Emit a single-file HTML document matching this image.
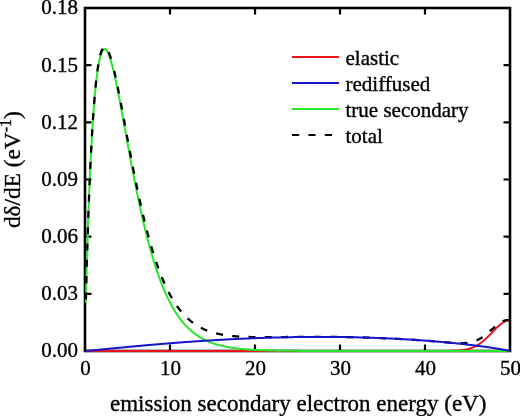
<!DOCTYPE html>
<html><head><meta charset="utf-8"><style>html,body{margin:0;padding:0;background:#fff;width:520px;height:416px;overflow:hidden}svg{display:block}.t{font-family:"Liberation Serif","Times New Roman",serif;fill:#000;stroke:#000;stroke-width:0.35px}</style></head>
<body><svg width="520" height="416" viewBox="0 0 520 416"><rect width="520" height="416" fill="#fff"/><rect x="85.0" y="8.0" width="425.0" height="343.0" fill="none" stroke="#000" stroke-width="2.6"/><path d="M170.0 351.0v-6.5M170.0 8.0v6.5M255.0 351.0v-6.5M255.0 8.0v6.5M340.0 351.0v-6.5M340.0 8.0v6.5M425.0 351.0v-6.5M425.0 8.0v6.5M85.0 293.8h6.5M510.0 293.8h-6.5M85.0 236.7h6.5M510.0 236.7h-6.5M85.0 179.5h6.5M510.0 179.5h-6.5M85.0 122.3h6.5M510.0 122.3h-6.5M85.0 65.2h6.5M510.0 65.2h-6.5" stroke="#000" stroke-width="2.2" fill="none"/><polyline fill="none" stroke="#e8141c" stroke-width="2" points="85.00,351.00 85.08,351.00 85.17,351.00 85.25,351.00 85.34,351.00 85.42,351.00 85.51,351.00 85.59,351.00 85.68,351.00 85.77,351.00 85.85,351.00 85.94,351.00 86.02,351.00 86.11,351.00 86.19,351.00 86.28,351.00 86.36,351.00 86.44,351.00 86.53,351.00 86.61,351.00 86.70,351.00 86.78,351.00 86.87,351.00 86.95,351.00 87.04,351.00 87.12,351.00 87.21,351.00 87.30,351.00 87.38,351.00 87.47,351.00 87.55,351.00 87.64,351.00 87.72,351.00 87.81,351.00 87.89,351.00 87.97,351.00 88.06,351.00 88.14,351.00 88.23,351.00 88.31,351.00 88.40,351.00 88.48,351.00 88.57,351.00 88.66,351.00 88.74,351.00 88.83,351.00 88.91,351.00 89.00,351.00 89.08,351.00 89.17,351.00 89.25,351.00 89.33,351.00 89.42,351.00 89.50,351.00 89.59,351.00 89.67,351.00 89.76,351.00 89.84,351.00 89.93,351.00 90.02,351.00 90.10,351.00 90.19,351.00 90.27,351.00 90.36,351.00 90.44,351.00 90.53,351.00 90.61,351.00 90.69,351.00 90.78,351.00 90.86,351.00 90.95,351.00 91.03,351.00 91.12,351.00 91.20,351.00 91.29,351.00 91.38,351.00 91.46,351.00 91.55,351.00 91.63,351.00 91.72,351.00 91.80,351.00 91.89,351.00 91.97,351.00 92.06,351.00 92.14,351.00 92.22,351.00 92.31,351.00 92.39,351.00 92.48,351.00 92.56,351.00 92.65,351.00 92.73,351.00 92.82,351.00 92.91,351.00 92.99,351.00 93.08,351.00 93.16,351.00 93.25,351.00 93.33,351.00 93.41,351.00 93.50,351.00 93.92,351.00 94.35,351.00 94.78,351.00 95.20,351.00 95.62,351.00 96.05,351.00 96.47,351.00 96.90,351.00 97.33,351.00 97.75,351.00 98.17,351.00 98.60,351.00 99.03,351.00 99.45,351.00 99.88,351.00 100.30,351.00 100.72,351.00 101.15,351.00 101.58,351.00 102.00,351.00 102.42,351.00 102.85,351.00 103.28,351.00 103.70,351.00 104.12,351.00 104.55,351.00 104.97,351.00 105.40,351.00 105.83,351.00 106.25,351.00 106.67,351.00 107.10,351.00 107.53,351.00 107.95,351.00 108.38,351.00 108.80,351.00 109.22,351.00 109.65,351.00 110.08,351.00 110.50,351.00 110.92,351.00 111.35,351.00 111.78,351.00 112.20,351.00 112.62,351.00 113.05,351.00 113.47,351.00 113.90,351.00 114.33,351.00 114.75,351.00 115.17,351.00 115.60,351.00 116.03,351.00 116.45,351.00 116.88,351.00 117.30,351.00 117.72,351.00 118.15,351.00 118.58,351.00 119.00,351.00 119.43,351.00 119.85,351.00 120.28,351.00 120.70,351.00 121.12,351.00 121.55,351.00 121.97,351.00 122.40,351.00 122.83,351.00 123.25,351.00 123.68,351.00 124.10,351.00 124.53,351.00 124.95,351.00 125.38,351.00 125.80,351.00 126.22,351.00 126.65,351.00 127.08,351.00 127.50,351.00 127.92,351.00 128.35,351.00 128.78,351.00 129.20,351.00 129.62,351.00 130.05,351.00 130.47,351.00 130.90,351.00 131.32,351.00 131.75,351.00 132.18,351.00 132.60,351.00 133.03,351.00 133.45,351.00 133.88,351.00 134.30,351.00 134.72,351.00 135.15,351.00 135.57,351.00 136.00,351.00 136.43,351.00 136.85,351.00 137.28,351.00 137.70,351.00 138.12,351.00 138.55,351.00 138.97,351.00 139.40,351.00 139.82,351.00 140.25,351.00 140.68,351.00 141.10,351.00 141.53,351.00 141.95,351.00 142.38,351.00 142.80,351.00 143.22,351.00 143.65,351.00 144.07,351.00 144.50,351.00 144.93,351.00 145.35,351.00 145.78,351.00 146.20,351.00 146.62,351.00 147.05,351.00 147.47,351.00 147.90,351.00 148.32,351.00 148.75,351.00 149.18,351.00 149.60,351.00 150.03,351.00 150.45,351.00 150.88,351.00 151.30,351.00 151.73,351.00 152.15,351.00 152.57,351.00 153.00,351.00 153.43,351.00 153.85,351.00 154.28,351.00 154.70,351.00 155.12,351.00 155.55,351.00 155.98,351.00 156.40,351.00 156.82,351.00 157.25,351.00 157.68,351.00 158.10,351.00 158.53,351.00 158.95,351.00 159.38,351.00 159.80,351.00 160.23,351.00 160.65,351.00 161.07,351.00 161.50,351.00 161.93,351.00 162.35,351.00 162.78,351.00 163.20,351.00 163.62,351.00 164.05,351.00 164.47,351.00 164.90,351.00 165.32,351.00 165.75,351.00 166.18,351.00 166.60,351.00 167.03,351.00 167.45,351.00 167.88,351.00 168.30,351.00 168.72,351.00 169.15,351.00 169.57,351.00 170.00,351.00 170.43,351.00 170.85,351.00 171.28,351.00 171.70,351.00 172.12,351.00 172.55,351.00 172.97,351.00 173.40,351.00 173.82,351.00 174.25,351.00 174.68,351.00 175.10,351.00 175.53,351.00 175.95,351.00 176.38,351.00 176.80,351.00 177.23,351.00 177.65,351.00 178.07,351.00 178.50,351.00 178.93,351.00 179.35,351.00 179.78,351.00 180.20,351.00 180.62,351.00 181.05,351.00 181.48,351.00 181.90,351.00 182.32,351.00 182.75,351.00 183.18,351.00 183.60,351.00 184.03,351.00 184.45,351.00 184.88,351.00 185.30,351.00 185.73,351.00 186.15,351.00 186.57,351.00 187.00,351.00 187.43,351.00 187.85,351.00 188.28,351.00 188.70,351.00 189.12,351.00 189.55,351.00 189.98,351.00 190.40,351.00 190.82,351.00 191.25,351.00 191.68,351.00 192.10,351.00 192.53,351.00 192.95,351.00 193.38,351.00 193.80,351.00 194.23,351.00 194.65,351.00 195.07,351.00 195.50,351.00 195.93,351.00 196.35,351.00 196.78,351.00 197.20,351.00 197.62,351.00 198.05,351.00 198.48,351.00 198.90,351.00 199.32,351.00 199.75,351.00 200.18,351.00 200.60,351.00 201.03,351.00 201.45,351.00 201.88,351.00 202.30,351.00 202.73,351.00 203.15,351.00 203.57,351.00 204.00,351.00 204.43,351.00 204.85,351.00 205.28,351.00 205.70,351.00 206.12,351.00 206.55,351.00 206.98,351.00 207.40,351.00 207.82,351.00 208.25,351.00 208.68,351.00 209.10,351.00 209.53,351.00 209.95,351.00 210.38,351.00 210.80,351.00 211.23,351.00 211.65,351.00 212.07,351.00 212.50,351.00 212.93,351.00 213.35,351.00 213.78,351.00 214.20,351.00 214.62,351.00 215.05,351.00 215.48,351.00 215.90,351.00 216.33,351.00 216.75,351.00 217.18,351.00 217.60,351.00 218.03,351.00 218.45,351.00 218.88,351.00 219.30,351.00 219.73,351.00 220.15,351.00 220.58,351.00 221.00,351.00 221.43,351.00 221.85,351.00 222.27,351.00 222.70,351.00 223.12,351.00 223.55,351.00 223.98,351.00 224.40,351.00 224.83,351.00 225.25,351.00 225.68,351.00 226.10,351.00 226.52,351.00 226.95,351.00 227.38,351.00 227.80,351.00 228.23,351.00 228.65,351.00 229.08,351.00 229.50,351.00 229.93,351.00 230.35,351.00 230.78,351.00 231.20,351.00 231.62,351.00 232.05,351.00 232.48,351.00 232.90,351.00 233.32,351.00 233.75,351.00 234.18,351.00 234.60,351.00 235.03,351.00 235.45,351.00 235.88,351.00 236.30,351.00 236.73,351.00 237.15,351.00 237.57,351.00 238.00,351.00 238.43,351.00 238.85,351.00 239.28,351.00 239.70,351.00 240.12,351.00 240.55,351.00 240.98,351.00 241.40,351.00 241.82,351.00 242.25,351.00 242.68,351.00 243.10,351.00 243.53,351.00 243.95,351.00 244.38,351.00 244.80,351.00 245.23,351.00 245.65,351.00 246.07,351.00 246.50,351.00 246.93,351.00 247.35,351.00 247.78,351.00 248.20,351.00 248.62,351.00 249.05,351.00 249.48,351.00 249.90,351.00 250.32,351.00 250.75,351.00 251.18,351.00 251.60,351.00 252.03,351.00 252.45,351.00 252.88,351.00 253.30,351.00 253.73,351.00 254.15,351.00 254.57,351.00 255.00,351.00 255.43,351.00 255.85,351.00 256.27,351.00 256.70,351.00 257.12,351.00 257.55,351.00 257.98,351.00 258.40,351.00 258.83,351.00 259.25,351.00 259.68,351.00 260.10,351.00 260.52,351.00 260.95,351.00 261.38,351.00 261.80,351.00 262.23,351.00 262.65,351.00 263.08,351.00 263.50,351.00 263.93,351.00 264.35,351.00 264.77,351.00 265.20,351.00 265.62,351.00 266.05,351.00 266.48,351.00 266.90,351.00 267.33,351.00 267.75,351.00 268.18,351.00 268.60,351.00 269.02,351.00 269.45,351.00 269.88,351.00 270.30,351.00 270.73,351.00 271.15,351.00 271.58,351.00 272.00,351.00 272.43,351.00 272.85,351.00 273.27,351.00 273.70,351.00 274.12,351.00 274.55,351.00 274.98,351.00 275.40,351.00 275.83,351.00 276.25,351.00 276.68,351.00 277.10,351.00 277.52,351.00 277.95,351.00 278.38,351.00 278.80,351.00 279.23,351.00 279.65,351.00 280.08,351.00 280.50,351.00 280.93,351.00 281.35,351.00 281.77,351.00 282.20,351.00 282.62,351.00 283.05,351.00 283.48,351.00 283.90,351.00 284.33,351.00 284.75,351.00 285.18,351.00 285.60,351.00 286.02,351.00 286.45,351.00 286.88,351.00 287.30,351.00 287.73,351.00 288.15,351.00 288.58,351.00 289.00,351.00 289.43,351.00 289.85,351.00 290.27,351.00 290.70,351.00 291.12,351.00 291.55,351.00 291.98,351.00 292.40,351.00 292.83,351.00 293.25,351.00 293.68,351.00 294.10,351.00 294.52,351.00 294.95,351.00 295.38,351.00 295.80,351.00 296.23,351.00 296.65,351.00 297.08,351.00 297.50,351.00 297.93,351.00 298.35,351.00 298.77,351.00 299.20,351.00 299.62,351.00 300.05,351.00 300.48,351.00 300.90,351.00 301.33,351.00 301.75,351.00 302.18,351.00 302.60,351.00 303.02,351.00 303.45,351.00 303.88,351.00 304.30,351.00 304.73,351.00 305.15,351.00 305.58,351.00 306.00,351.00 306.43,351.00 306.85,351.00 307.27,351.00 307.70,351.00 308.12,351.00 308.55,351.00 308.98,351.00 309.40,351.00 309.83,351.00 310.25,351.00 310.68,351.00 311.10,351.00 311.52,351.00 311.95,351.00 312.38,351.00 312.80,351.00 313.23,351.00 313.65,351.00 314.08,351.00 314.50,351.00 314.93,351.00 315.35,351.00 315.77,351.00 316.20,351.00 316.62,351.00 317.05,351.00 317.48,351.00 317.90,351.00 318.33,351.00 318.75,351.00 319.18,351.00 319.60,351.00 320.02,351.00 320.45,351.00 320.88,351.00 321.30,351.00 321.73,351.00 322.15,351.00 322.58,351.00 323.00,351.00 323.43,351.00 323.85,351.00 324.27,351.00 324.70,351.00 325.12,351.00 325.55,351.00 325.98,351.00 326.40,351.00 326.83,351.00 327.25,351.00 327.68,351.00 328.10,351.00 328.52,351.00 328.95,351.00 329.38,351.00 329.80,351.00 330.23,351.00 330.65,351.00 331.08,351.00 331.50,351.00 331.93,351.00 332.35,351.00 332.77,351.00 333.20,351.00 333.62,351.00 334.05,351.00 334.48,351.00 334.90,351.00 335.33,351.00 335.75,351.00 336.18,351.00 336.60,351.00 337.02,351.00 337.45,351.00 337.88,351.00 338.30,351.00 338.73,351.00 339.15,351.00 339.58,351.00 340.00,351.00 340.43,351.00 340.85,351.00 341.28,351.00 341.70,351.00 342.12,351.00 342.55,351.00 342.98,351.00 343.40,351.00 343.83,351.00 344.25,351.00 344.68,351.00 345.10,351.00 345.53,351.00 345.95,351.00 346.38,351.00 346.80,351.00 347.23,351.00 347.65,351.00 348.08,351.00 348.50,351.00 348.93,351.00 349.35,351.00 349.78,351.00 350.20,351.00 350.62,351.00 351.05,351.00 351.48,351.00 351.90,351.00 352.33,351.00 352.75,351.00 353.18,351.00 353.60,351.00 354.03,351.00 354.45,351.00 354.88,351.00 355.30,351.00 355.73,351.00 356.15,351.00 356.58,351.00 357.00,351.00 357.42,351.00 357.85,351.00 358.28,351.00 358.70,351.00 359.12,351.00 359.55,351.00 359.98,351.00 360.40,351.00 360.83,351.00 361.25,351.00 361.67,351.00 362.10,351.00 362.53,351.00 362.95,351.00 363.38,351.00 363.80,351.00 364.23,351.00 364.65,351.00 365.08,351.00 365.50,351.00 365.93,351.00 366.35,351.00 366.77,351.00 367.20,351.00 367.62,351.00 368.05,351.00 368.48,351.00 368.90,351.00 369.33,351.00 369.75,351.00 370.18,351.00 370.60,351.00 371.02,351.00 371.45,351.00 371.88,351.00 372.30,351.00 372.73,351.00 373.15,351.00 373.58,351.00 374.00,351.00 374.43,351.00 374.85,351.00 375.27,351.00 375.70,351.00 376.12,351.00 376.55,351.00 376.98,351.00 377.40,351.00 377.83,351.00 378.25,351.00 378.68,351.00 379.10,351.00 379.52,351.00 379.95,351.00 380.38,351.00 380.80,351.00 381.23,351.00 381.65,351.00 382.08,351.00 382.50,351.00 382.93,351.00 383.35,351.00 383.77,351.00 384.20,351.00 384.62,351.00 385.05,351.00 385.48,351.00 385.90,351.00 386.33,351.00 386.75,351.00 387.18,351.00 387.60,351.00 388.02,351.00 388.45,351.00 388.88,351.00 389.30,351.00 389.73,351.00 390.15,351.00 390.58,351.00 391.00,351.00 391.43,351.00 391.85,351.00 392.27,351.00 392.70,351.00 393.12,351.00 393.55,351.00 393.98,351.00 394.40,351.00 394.83,351.00 395.25,351.00 395.68,351.00 396.10,351.00 396.52,351.00 396.95,351.00 397.38,351.00 397.80,351.00 398.23,351.00 398.65,351.00 399.08,351.00 399.50,351.00 399.93,351.00 400.35,351.00 400.77,351.00 401.20,351.00 401.62,351.00 402.05,351.00 402.48,351.00 402.90,351.00 403.33,351.00 403.75,351.00 404.18,351.00 404.60,351.00 405.02,351.00 405.45,351.00 405.88,351.00 406.30,351.00 406.73,351.00 407.15,351.00 407.58,351.00 408.00,351.00 408.43,351.00 408.85,351.00 409.27,351.00 409.70,351.00 410.12,351.00 410.55,351.00 410.98,351.00 411.40,351.00 411.83,351.00 412.25,351.00 412.68,351.00 413.10,351.00 413.52,351.00 413.95,351.00 414.38,351.00 414.80,351.00 415.23,351.00 415.65,351.00 416.08,351.00 416.50,351.00 416.93,351.00 417.35,351.00 417.77,351.00 418.20,351.00 418.62,351.00 419.05,351.00 419.48,351.00 419.90,351.00 420.33,351.00 420.75,351.00 421.18,351.00 421.60,351.00 422.03,351.00 422.45,351.00 422.88,351.00 423.30,351.00 423.73,351.00 424.15,351.00 424.58,351.00 425.00,351.00 425.43,351.00 425.85,351.00 426.28,351.00 426.70,351.00 427.12,351.00 427.55,351.00 427.98,351.00 428.40,351.00 428.83,351.00 429.25,351.00 429.68,351.00 430.10,351.00 430.53,351.00 430.95,351.00 431.38,351.00 431.80,351.00 432.23,351.00 432.65,351.00 433.08,351.00 433.50,351.00 433.93,351.00 434.35,351.00 434.78,351.00 435.20,351.00 435.62,350.99 436.05,350.99 436.48,350.99 436.90,350.99 437.33,350.99 437.75,350.99 438.18,350.99 438.60,350.99 439.03,350.99 439.45,350.99 439.88,350.99 440.30,350.99 440.73,350.98 441.15,350.98 441.58,350.98 442.00,350.98 442.43,350.98 442.85,350.97 443.28,350.97 443.70,350.97 444.12,350.97 444.55,350.96 444.98,350.96 445.40,350.96 445.83,350.95 446.25,350.95 446.68,350.94 447.10,350.94 447.53,350.93 447.95,350.93 448.38,350.92 448.80,350.91 449.23,350.91 449.65,350.90 450.08,350.89 450.50,350.88 450.93,350.87 451.35,350.86 451.78,350.85 452.20,350.84 452.62,350.82 453.05,350.81 453.48,350.80 453.90,350.78 454.33,350.76 454.75,350.75 455.18,350.73 455.60,350.70 456.03,350.68 456.45,350.66 456.88,350.63 457.30,350.61 457.73,350.58 458.15,350.55 458.58,350.52 459.00,350.48 459.43,350.45 459.85,350.41 460.28,350.37 460.70,350.32 461.12,350.28 461.55,350.23 461.98,350.18 462.40,350.12 462.83,350.07 463.25,350.01 463.68,349.94 464.10,349.88 464.53,349.80 464.95,349.73 465.38,349.65 465.80,349.57 466.23,349.48 466.65,349.39 467.08,349.30 467.50,349.20 467.93,349.09 468.35,348.98 468.78,348.87 469.20,348.75 469.62,348.62 470.05,348.49 470.48,348.36 470.90,348.21 471.33,348.07 471.75,347.91 472.18,347.75 472.60,347.58 473.03,347.41 473.45,347.23 473.88,347.04 474.30,346.85 474.73,346.65 475.15,346.44 475.58,346.22 476.00,346.00 476.43,345.77 476.85,345.53 477.28,345.29 477.70,345.03 478.12,344.77 478.55,344.50 478.98,344.23 479.40,343.94 479.83,343.65 480.25,343.35 480.68,343.04 481.10,342.73 481.53,342.40 481.95,342.07 482.38,341.74 482.80,341.39 483.23,341.04 483.65,340.68 484.08,340.31 484.50,339.94 484.93,339.56 485.35,339.18 485.78,338.78 486.20,338.39 486.62,337.98 487.05,337.58 487.48,337.16 487.90,336.74 488.33,336.32 488.75,335.90 489.18,335.47 489.60,335.03 490.03,334.60 490.45,334.16 490.88,333.72 491.30,333.28 491.73,332.83 492.15,332.39 492.58,331.95 493.00,331.51 493.43,331.07 493.85,330.63 494.28,330.19 494.70,329.75 495.12,329.32 495.55,328.89 495.98,328.47 496.40,328.05 496.83,327.64 497.25,327.23 497.68,326.83 498.10,326.43 498.53,326.05 498.95,325.67 499.38,325.30 499.80,324.94 500.23,324.59 500.65,324.25 501.08,323.93 501.50,323.61 501.93,323.30 502.35,323.01 502.78,322.73 503.20,322.47 503.62,322.22 504.05,321.98 504.48,321.76 504.90,321.55 505.33,321.35 505.75,321.18 506.18,321.02 506.60,320.87 507.03,320.74 507.45,320.63 507.88,320.54 508.30,320.46 508.73,320.40 509.15,320.36 509.58,320.33 510.00,320.32"/><polyline fill="none" stroke="#28e628" stroke-width="2" points="85.85,302.67 85.94,298.93 86.02,295.27 86.11,291.70 86.19,288.19 86.28,284.76 86.36,281.39 86.44,278.08 86.53,274.83 86.61,271.64 86.70,268.49 86.78,265.40 86.87,262.36 86.95,259.36 87.04,256.41 87.12,253.50 87.21,250.63 87.30,247.80 87.38,245.01 87.47,242.27 87.55,239.55 87.64,236.88 87.72,234.23 87.81,231.63 87.89,229.05 87.97,226.51 88.06,224.01 88.14,221.53 88.23,219.08 88.31,216.67 88.40,214.28 88.48,211.93 88.57,209.60 88.66,207.30 88.74,205.02 88.83,202.78 88.91,200.56 89.00,198.37 89.08,196.20 89.17,194.06 89.25,191.94 89.33,189.85 89.42,187.78 89.50,185.74 89.59,183.72 89.67,181.73 89.76,179.75 89.84,177.80 89.93,175.87 90.02,173.97 90.10,172.09 90.19,170.22 90.27,168.38 90.36,166.56 90.44,164.76 90.53,162.99 90.61,161.23 90.69,159.49 90.78,157.77 90.86,156.07 90.95,154.40 91.03,152.74 91.12,151.10 91.20,149.47 91.29,147.87 91.38,146.29 91.46,144.72 91.55,143.17 91.63,141.64 91.72,140.13 91.80,138.64 91.89,137.16 91.97,135.70 92.06,134.26 92.14,132.83 92.22,131.42 92.31,130.03 92.39,128.65 92.48,127.29 92.56,125.95 92.65,124.62 92.73,123.31 92.82,122.01 92.91,120.73 92.99,119.47 93.08,118.22 93.16,116.98 93.25,115.76 93.33,114.56 93.41,113.37 93.50,112.19 93.92,106.53 94.35,101.21 94.78,96.22 95.20,91.56 95.62,87.20 96.05,83.13 96.47,79.35 96.90,75.84 97.33,72.59 97.75,69.60 98.17,66.84 98.60,64.32 99.03,62.02 99.45,59.93 99.88,58.06 100.30,56.38 100.72,54.90 101.15,53.59 101.58,52.47 102.00,51.52 102.42,50.73 102.85,50.10 103.28,49.62 103.70,49.28 104.12,49.09 104.55,49.03 104.97,49.09 105.40,49.29 105.83,49.60 106.25,50.02 106.67,50.56 107.10,51.19 107.53,51.93 107.95,52.77 108.38,53.69 108.80,54.71 109.22,55.80 109.65,56.98 110.08,58.23 110.50,59.56 110.92,60.96 111.35,62.42 111.78,63.94 112.20,65.53 112.62,67.17 113.05,68.87 113.47,70.61 113.90,72.41 114.33,74.25 114.75,76.13 115.17,78.06 115.60,80.02 116.03,82.02 116.45,84.05 116.88,86.11 117.30,88.21 117.72,90.33 118.15,92.47 118.58,94.64 119.00,96.83 119.43,99.05 119.85,101.28 120.28,103.52 120.70,105.78 121.12,108.06 121.55,110.35 121.97,112.64 122.40,114.95 122.83,117.27 123.25,119.59 123.68,121.92 124.10,124.25 124.53,126.58 124.95,128.92 125.38,131.26 125.80,133.60 126.22,135.93 126.65,138.27 127.08,140.60 127.50,142.93 127.92,145.25 128.35,147.57 128.78,149.88 129.20,152.19 129.62,154.49 130.05,156.78 130.47,159.06 130.90,161.33 131.32,163.60 131.75,165.85 132.18,168.09 132.60,170.32 133.03,172.53 133.45,174.74 133.88,176.93 134.30,179.11 134.72,181.27 135.15,183.42 135.57,185.56 136.00,187.68 136.43,189.79 136.85,191.88 137.28,193.96 137.70,196.02 138.12,198.06 138.55,200.09 138.97,202.10 139.40,204.09 139.82,206.07 140.25,208.03 140.68,209.97 141.10,211.90 141.53,213.80 141.95,215.69 142.38,217.57 142.80,219.42 143.22,221.26 143.65,223.08 144.07,224.88 144.50,226.66 144.93,228.42 145.35,230.17 145.78,231.90 146.20,233.61 146.62,235.30 147.05,236.98 147.47,238.63 147.90,240.27 148.32,241.89 148.75,243.49 149.18,245.07 149.60,246.64 150.03,248.19 150.45,249.72 150.88,251.23 151.30,252.72 151.73,254.20 152.15,255.66 152.57,257.10 153.00,258.52 153.43,259.93 153.85,261.32 154.28,262.69 154.70,264.05 155.12,265.38 155.55,266.71 155.98,268.01 156.40,269.30 156.82,270.57 157.25,271.82 157.68,273.06 158.10,274.28 158.53,275.49 158.95,276.68 159.38,277.86 159.80,279.01 160.23,280.16 160.65,281.29 161.07,282.40 161.50,283.50 161.93,284.58 162.35,285.65 162.78,286.70 163.20,287.74 163.62,288.76 164.05,289.77 164.47,290.77 164.90,291.75 165.32,292.71 165.75,293.67 166.18,294.61 166.60,295.54 167.03,296.45 167.45,297.35 167.88,298.24 168.30,299.11 168.72,299.97 169.15,300.82 169.57,301.66 170.00,302.48 170.43,303.29 170.85,304.09 171.28,304.88 171.70,305.65 172.12,306.42 172.55,307.17 172.97,307.91 173.40,308.64 173.82,309.36 174.25,310.07 174.68,310.77 175.10,311.45 175.53,312.13 175.95,312.79 176.38,313.45 176.80,314.09 177.23,314.73 177.65,315.35 178.07,315.97 178.50,316.58 178.93,317.17 179.35,317.76 179.78,318.34 180.20,318.90 180.62,319.46 181.05,320.01 181.48,320.56 181.90,321.09 182.32,321.61 182.75,322.13 183.18,322.64 183.60,323.14 184.03,323.63 184.45,324.11 184.88,324.59 185.30,325.05 185.73,325.51 186.15,325.97 186.57,326.41 187.00,326.85 187.43,327.28 187.85,327.70 188.28,328.12 188.70,328.53 189.12,328.93 189.55,329.33 189.98,329.72 190.40,330.10 190.82,330.48 191.25,330.85 191.68,331.21 192.10,331.57 192.53,331.92 192.95,332.27 193.38,332.61 193.80,332.94 194.23,333.27 194.65,333.59 195.07,333.91 195.50,334.22 195.93,334.53 196.35,334.83 196.78,335.13 197.20,335.42 197.62,335.70 198.05,335.98 198.48,336.26 198.90,336.53 199.32,336.80 199.75,337.06 200.18,337.32 200.60,337.57 201.03,337.82 201.45,338.07 201.88,338.31 202.30,338.54 202.73,338.77 203.15,339.00 203.57,339.22 204.00,339.44 204.43,339.66 204.85,339.87 205.28,340.08 205.70,340.29 206.12,340.49 206.55,340.68 206.98,340.88 207.40,341.07 207.82,341.25 208.25,341.44 208.68,341.62 209.10,341.80 209.53,341.97 209.95,342.14 210.38,342.31 210.80,342.47 211.23,342.64 211.65,342.79 212.07,342.95 212.50,343.10 212.93,343.25 213.35,343.40 213.78,343.55 214.20,343.69 214.62,343.83 215.05,343.97 215.48,344.10 215.90,344.23 216.33,344.36 216.75,344.49 217.18,344.61 217.60,344.74 218.03,344.86 218.45,344.98 218.88,345.09 219.30,345.21 219.73,345.32 220.15,345.43 220.58,345.54 221.00,345.64 221.43,345.74 221.85,345.85 222.27,345.95 222.70,346.04 223.12,346.14 223.55,346.24 223.98,346.33 224.40,346.42 224.83,346.51 225.25,346.60 225.68,346.68 226.10,346.77 226.52,346.85 226.95,346.93 227.38,347.01 227.80,347.09 228.23,347.17 228.65,347.24 229.08,347.31 229.50,347.39 229.93,347.46 230.35,347.53 230.78,347.60 231.20,347.66 231.62,347.73 232.05,347.79 232.48,347.86 232.90,347.92 233.32,347.98 233.75,348.04 234.18,348.10 234.60,348.16 235.03,348.21 235.45,348.27 235.88,348.32 236.30,348.37 236.73,348.43 237.15,348.48 237.57,348.53 238.00,348.58 238.43,348.63 238.85,348.67 239.28,348.72 239.70,348.77 240.12,348.81 240.55,348.85 240.98,348.90 241.40,348.94 241.82,348.98 242.25,349.02 242.68,349.06 243.10,349.10 243.53,349.14 243.95,349.18 244.38,349.21 244.80,349.25 245.23,349.28 245.65,349.32 246.07,349.35 246.50,349.39 246.93,349.42 247.35,349.45 247.78,349.48 248.20,349.51 248.62,349.54 249.05,349.57 249.48,349.60 249.90,349.63 250.32,349.66 250.75,349.68 251.18,349.71 251.60,349.74 252.03,349.76 252.45,349.79 252.88,349.81 253.30,349.84 253.73,349.86 254.15,349.88 254.57,349.91 255.00,349.93 255.43,349.95 255.85,349.97 256.27,349.99 256.70,350.01 257.12,350.03 257.55,350.05 257.98,350.07 258.40,350.09 258.83,350.11 259.25,350.13 259.68,350.15 260.10,350.16 260.52,350.18 260.95,350.20 261.38,350.21 261.80,350.23 262.23,350.25 262.65,350.26 263.08,350.28 263.50,350.29 263.93,350.31 264.35,350.32 264.77,350.34 265.20,350.35 265.62,350.36 266.05,350.38 266.48,350.39 266.90,350.40 267.33,350.41 267.75,350.43 268.18,350.44 268.60,350.45 269.02,350.46 269.45,350.47 269.88,350.48 270.30,350.49 270.73,350.50 271.15,350.51 271.58,350.53 272.00,350.53 272.43,350.54 272.85,350.55 273.27,350.56 273.70,350.57 274.12,350.58 274.55,350.59 274.98,350.60 275.40,350.61 275.83,350.62 276.25,350.62 276.68,350.63 277.10,350.64 277.52,350.65 277.95,350.65 278.38,350.66 278.80,350.67 279.23,350.68 279.65,350.68 280.08,350.69 280.50,350.70 280.93,350.70 281.35,350.71 281.77,350.71 282.20,350.72 282.62,350.73 283.05,350.73 283.48,350.74 283.90,350.74 284.33,350.75 284.75,350.75 285.18,350.76 285.60,350.76 286.02,350.77 286.45,350.77 286.88,350.78 287.30,350.78 287.73,350.79 288.15,350.79 288.58,350.80 289.00,350.80 289.43,350.81 289.85,350.81 290.27,350.81 290.70,350.82 291.12,350.82 291.55,350.83 291.98,350.83 292.40,350.83 292.83,350.84 293.25,350.84 293.68,350.84 294.10,350.85 294.52,350.85 294.95,350.85 295.38,350.86 295.80,350.86 296.23,350.86 296.65,350.87 297.08,350.87 297.50,350.87 297.93,350.87 298.35,350.88 298.77,350.88 299.20,350.88 299.62,350.88 300.05,350.89 300.48,350.89 300.90,350.89 301.33,350.89 301.75,350.90 302.18,350.90 302.60,350.90 303.02,350.90 303.45,350.90 303.88,350.91 304.30,350.91 304.73,350.91 305.15,350.91 305.58,350.91 306.00,350.92 306.43,350.92 306.85,350.92 307.27,350.92 307.70,350.92 308.12,350.93 308.55,350.93 308.98,350.93 309.40,350.93 309.83,350.93 310.25,350.93 310.68,350.93 311.10,350.94 311.52,350.94 311.95,350.94 312.38,350.94 312.80,350.94 313.23,350.94 313.65,350.94 314.08,350.94 314.50,350.95 314.93,350.95 315.35,350.95 315.77,350.95 316.20,350.95 316.62,350.95 317.05,350.95 317.48,350.95 317.90,350.95 318.33,350.96 318.75,350.96 319.18,350.96 319.60,350.96 320.02,350.96 320.45,350.96 320.88,350.96 321.30,350.96 321.73,350.96 322.15,350.96 322.58,350.96 323.00,350.97 323.43,350.97 323.85,350.97 324.27,350.97 324.70,350.97 325.12,350.97 325.55,350.97 325.98,350.97 326.40,350.97 326.83,350.97 327.25,350.97 327.68,350.97 328.10,350.97 328.52,350.97 328.95,350.97 329.38,350.98 329.80,350.98 330.23,350.98 330.65,350.98 331.08,350.98 331.50,350.98 331.93,350.98 332.35,350.98 332.77,350.98 333.20,350.98 333.62,350.98 334.05,350.98 334.48,350.98 334.90,350.98 335.33,350.98 335.75,350.98 336.18,350.98 336.60,350.98 337.02,350.98 337.45,350.98 337.88,350.98 338.30,350.98 338.73,350.98 339.15,350.99 339.58,350.99 340.00,350.99 340.43,350.99 340.85,350.99 341.28,350.99 341.70,350.99 342.12,350.99 342.55,350.99 342.98,350.99 343.40,350.99 343.83,350.99 344.25,350.99 344.68,350.99 345.10,350.99 345.53,350.99 345.95,350.99 346.38,350.99 346.80,350.99 347.23,350.99 347.65,350.99 348.08,350.99 348.50,350.99 348.93,350.99 349.35,350.99 349.78,350.99 350.20,350.99 350.62,350.99 351.05,350.99 351.48,350.99 351.90,350.99 352.33,350.99 352.75,350.99 353.18,350.99 353.60,350.99 354.03,350.99 354.45,350.99 354.88,350.99 355.30,350.99 355.73,350.99 356.15,350.99 356.58,350.99 357.00,350.99 357.42,350.99 357.85,350.99 358.28,350.99 358.70,350.99 359.12,350.99 359.55,350.99 359.98,351.00 360.40,351.00 360.83,351.00 361.25,351.00 361.67,351.00 362.10,351.00 362.53,351.00 362.95,351.00 363.38,351.00 363.80,351.00 364.23,351.00 364.65,351.00 365.08,351.00 365.50,351.00 365.93,351.00 366.35,351.00 366.77,351.00 367.20,351.00 367.62,351.00 368.05,351.00 368.48,351.00 368.90,351.00 369.33,351.00 369.75,351.00 370.18,351.00 370.60,351.00 371.02,351.00 371.45,351.00 371.88,351.00 372.30,351.00 372.73,351.00 373.15,351.00 373.58,351.00 374.00,351.00 374.43,351.00 374.85,351.00 375.27,351.00 375.70,351.00 376.12,351.00 376.55,351.00 376.98,351.00 377.40,351.00 377.83,351.00 378.25,351.00 378.68,351.00 379.10,351.00 379.52,351.00 379.95,351.00 380.38,351.00 380.80,351.00 381.23,351.00 381.65,351.00 382.08,351.00 382.50,351.00 382.93,351.00 383.35,351.00 383.77,351.00 384.20,351.00 384.62,351.00 385.05,351.00 385.48,351.00 385.90,351.00 386.33,351.00 386.75,351.00 387.18,351.00 387.60,351.00 388.02,351.00 388.45,351.00 388.88,351.00 389.30,351.00 389.73,351.00 390.15,351.00 390.58,351.00 391.00,351.00 391.43,351.00 391.85,351.00 392.27,351.00 392.70,351.00 393.12,351.00 393.55,351.00 393.98,351.00 394.40,351.00 394.83,351.00 395.25,351.00 395.68,351.00 396.10,351.00 396.52,351.00 396.95,351.00 397.38,351.00 397.80,351.00 398.23,351.00 398.65,351.00 399.08,351.00 399.50,351.00 399.93,351.00 400.35,351.00 400.77,351.00 401.20,351.00 401.62,351.00 402.05,351.00 402.48,351.00 402.90,351.00 403.33,351.00 403.75,351.00 404.18,351.00 404.60,351.00 405.02,351.00 405.45,351.00 405.88,351.00 406.30,351.00 406.73,351.00 407.15,351.00 407.58,351.00 408.00,351.00 408.43,351.00 408.85,351.00 409.27,351.00 409.70,351.00 410.12,351.00 410.55,351.00 410.98,351.00 411.40,351.00 411.83,351.00 412.25,351.00 412.68,351.00 413.10,351.00 413.52,351.00 413.95,351.00 414.38,351.00 414.80,351.00 415.23,351.00 415.65,351.00 416.08,351.00 416.50,351.00 416.93,351.00 417.35,351.00 417.77,351.00 418.20,351.00 418.62,351.00 419.05,351.00 419.48,351.00 419.90,351.00 420.33,351.00 420.75,351.00 421.18,351.00 421.60,351.00 422.03,351.00 422.45,351.00 422.88,351.00 423.30,351.00 423.73,351.00 424.15,351.00 424.58,351.00 425.00,351.00 425.43,351.00 425.85,351.00 426.28,351.00 426.70,351.00 427.12,351.00 427.55,351.00 427.98,351.00 428.40,351.00 428.83,351.00 429.25,351.00 429.68,351.00 430.10,351.00 430.53,351.00 430.95,351.00 431.38,351.00 431.80,351.00 432.23,351.00 432.65,351.00 433.08,351.00 433.50,351.00 433.93,351.00 434.35,351.00 434.78,351.00 435.20,351.00 435.62,351.00 436.05,351.00 436.48,351.00 436.90,351.00 437.33,351.00 437.75,351.00 438.18,351.00 438.60,351.00 439.03,351.00 439.45,351.00 439.88,351.00 440.30,351.00 440.73,351.00 441.15,351.00 441.58,351.00 442.00,351.00 442.43,351.00 442.85,351.00 443.28,351.00 443.70,351.00 444.12,351.00 444.55,351.00 444.98,351.00 445.40,351.00 445.83,351.00 446.25,351.00 446.68,351.00 447.10,351.00 447.53,351.00 447.95,351.00 448.38,351.00 448.80,351.00 449.23,351.00 449.65,351.00 450.08,351.00 450.50,351.00 450.93,351.00 451.35,351.00 451.78,351.00 452.20,351.00 452.62,351.00 453.05,351.00 453.48,351.00 453.90,351.00 454.33,351.00 454.75,351.00 455.18,351.00 455.60,351.00 456.03,351.00 456.45,351.00 456.88,351.00 457.30,351.00 457.73,351.00 458.15,351.00 458.58,351.00 459.00,351.00 459.43,351.00 459.85,351.00 460.28,351.00 460.70,351.00 461.12,351.00 461.55,351.00 461.98,351.00 462.40,351.00 462.83,351.00 463.25,351.00 463.68,351.00 464.10,351.00 464.53,351.00 464.95,351.00 465.38,351.00 465.80,351.00 466.23,351.00 466.65,351.00 467.08,351.00 467.50,351.00 467.93,351.00 468.35,351.00 468.78,351.00 469.20,351.00 469.62,351.00 470.05,351.00 470.48,351.00 470.90,351.00 471.33,351.00 471.75,351.00 472.18,351.00 472.60,351.00 473.03,351.00 473.45,351.00 473.88,351.00 474.30,351.00 474.73,351.00 475.15,351.00 475.58,351.00 476.00,351.00 476.43,351.00 476.85,351.00 477.28,351.00 477.70,351.00 478.12,351.00 478.55,351.00 478.98,351.00 479.40,351.00 479.83,351.00 480.25,351.00 480.68,351.00 481.10,351.00 481.53,351.00 481.95,351.00 482.38,351.00 482.80,351.00 483.23,351.00 483.65,351.00 484.08,351.00 484.50,351.00 484.93,351.00 485.35,351.00 485.78,351.00 486.20,351.00 486.62,351.00 487.05,351.00 487.48,351.00 487.90,351.00 488.33,351.00 488.75,351.00 489.18,351.00 489.60,351.00 490.03,351.00 490.45,351.00 490.88,351.00 491.30,351.00 491.73,351.00 492.15,351.00 492.58,351.00 493.00,351.00 493.43,351.00 493.85,351.00 494.28,351.00 494.70,351.00 495.12,351.00 495.55,351.00 495.98,351.00 496.40,351.00 496.83,351.00 497.25,351.00 497.68,351.00 498.10,351.00 498.53,351.00 498.95,351.00 499.38,351.00 499.80,351.00 500.23,351.00 500.65,351.00 501.08,351.00 501.50,351.00 501.93,351.00 502.35,351.00 502.78,351.00 503.20,351.00 503.62,351.00 504.05,351.00 504.48,351.00 504.90,351.00 505.33,351.00 505.75,351.00 506.18,351.00 506.60,351.00 507.03,351.00 507.45,351.00 507.88,351.00 508.30,351.00 508.73,351.00 509.15,351.00 509.58,351.00 510.00,351.00"/><polyline fill="none" stroke="#000" stroke-width="2.3" stroke-dasharray="7.0 9.32" stroke-dashoffset="13.18" points="85.85,302.61 85.94,298.86 86.02,295.20 86.11,291.62 86.19,288.11 86.28,284.66 86.36,281.29 86.44,277.97 86.53,274.72 86.61,271.51 86.70,268.36 86.78,265.27 86.87,262.21 86.95,259.21 87.04,256.25 87.12,253.33 87.21,250.46 87.30,247.62 87.38,244.83 87.47,242.07 87.55,239.35 87.64,236.67 87.72,234.02 87.81,231.40 87.89,228.82 87.97,226.28 88.06,223.76 88.14,221.28 88.23,218.82 88.31,216.40 88.40,214.01 88.48,211.64 88.57,209.31 88.66,207.00 88.74,204.72 88.83,202.47 88.91,200.24 89.00,198.04 89.08,195.86 89.17,193.72 89.25,191.59 89.33,189.49 89.42,187.42 89.50,185.37 89.59,183.34 89.67,181.34 89.76,179.36 89.84,177.40 89.93,175.46 90.02,173.55 90.10,171.66 90.19,169.79 90.27,167.94 90.36,166.11 90.44,164.30 90.53,162.52 90.61,160.75 90.69,159.01 90.78,157.28 90.86,155.58 90.95,153.89 91.03,152.22 91.12,150.57 91.20,148.95 91.29,147.34 91.38,145.74 91.46,144.17 91.55,142.61 91.63,141.08 91.72,139.56 91.80,138.05 91.89,136.57 91.97,135.10 92.06,133.65 92.14,132.22 92.22,130.80 92.31,129.40 92.39,128.01 92.48,126.65 92.56,125.29 92.65,123.96 92.73,122.64 92.82,121.33 92.91,120.05 92.99,118.77 93.08,117.51 93.16,116.27 93.25,115.04 93.33,113.83 93.41,112.63 93.50,111.45 93.92,105.74 94.35,100.39 94.78,95.36 95.20,90.65 95.62,86.25 96.05,82.15 96.47,78.33 96.90,74.78 97.33,71.49 97.75,68.45 98.17,65.65 98.60,63.09 99.03,60.75 99.45,58.62 99.88,56.70 100.30,54.99 100.72,53.46 101.15,52.12 101.58,50.95 102.00,49.96 102.42,49.13 102.85,48.45 103.28,47.93 103.70,47.56 104.12,47.32 104.55,47.22 104.97,47.25 105.40,47.40 105.83,47.67 106.25,48.05 106.67,48.54 107.10,49.14 107.53,49.83 107.95,50.63 108.38,51.51 108.80,52.48 109.22,53.54 109.65,54.68 110.08,55.89 110.50,57.17 110.92,58.53 111.35,59.95 111.78,61.43 112.20,62.98 112.62,64.58 113.05,66.23"/><polyline fill="none" stroke="#000" stroke-width="2.3" stroke-dasharray="7.0 9.32" stroke-dashoffset="11.70" points="113.05,66.23 113.47,67.94 113.90,69.69 114.33,71.49 114.75,73.33 115.17,75.21 115.60,77.14 116.03,79.09 116.45,81.09 116.88,83.11 117.30,85.16 117.72,87.24 118.15,89.35 118.58,91.47 119.00,93.62 119.43,95.80 119.85,97.98 120.28,100.19 120.70,102.41 121.12,104.65 121.55,106.89 121.97,109.15 122.40,111.42 122.83,113.69 123.25,115.97 123.68,118.26 124.10,120.55 124.53,122.85 124.95,125.14 125.38,127.44 125.80,129.74 126.22,132.03 126.65,134.33 127.08,136.62 127.50,138.91 127.92,141.19 128.35,143.47 128.78,145.75 129.20,148.01 129.62,150.27 130.05,152.52 130.47,154.76 130.90,157.00 131.32,159.22 131.75,161.43 132.18,163.63 132.60,165.82 133.03,168.00 133.45,170.16 133.88,172.32 134.30,174.46 134.72,176.58 135.15,178.69 135.57,180.79 136.00,182.87 136.43,184.94 136.85,186.99 137.28,189.03 137.70,191.05 138.12,193.05 138.55,195.04 138.97,197.01 139.40,198.97 139.82,200.91 140.25,202.83 140.68,204.73 141.10,206.62 141.53,208.49 141.95,210.34 142.38,212.17 142.80,213.99 143.22,215.79 143.65,217.57 144.07,219.33 144.50,221.08 144.93,222.81 145.35,224.51 145.78,226.20 146.20,227.88 146.62,229.53 147.05,231.17 147.47,232.79 147.90,234.39 148.32,235.97 148.75,237.53 149.18,239.08 149.60,240.61 150.03,242.12 150.45,243.61 150.88,245.09 151.30,246.54 151.73,247.98 152.15,249.40 152.57,250.81 153.00,252.20 153.43,253.57 153.85,254.92 154.28,256.25 154.70,257.57 155.12,258.87 155.55,260.16 155.98,261.43 156.40,262.68 156.82,263.91 157.25,265.13 157.68,266.34 158.10,267.52 158.53,268.69 158.95,269.85 159.38,270.99 159.80,272.11 160.23,273.22 160.65,274.31 161.07,275.39 161.50,276.45 161.93,277.50 162.35,278.53 162.78,279.55 163.20,280.55 163.62,281.54 164.05,282.51 164.47,283.47 164.90,284.42 165.32,285.35 165.75,286.27 166.18,287.18 166.60,288.07 167.03,288.95 167.45,289.81 167.88,290.67 168.30,291.51 168.72,292.33 169.15,293.15 169.57,293.95 170.00,294.74 170.43,295.52 170.85,296.28 171.28,297.04 171.70,297.78 172.12,298.51 172.55,299.23 172.97,299.94 173.40,300.64 173.82,301.32 174.25,302.00 174.68,302.66 175.10,303.31 175.53,303.96 175.95,304.59 176.38,305.21 176.80,305.82 177.23,306.43 177.65,307.02 178.07,307.60 178.50,308.17 178.93,308.74 179.35,309.29 179.78,309.84 180.20,310.37 180.62,310.90 181.05,311.42 181.48,311.93 181.90,312.43 182.32,312.92 182.75,313.41 183.18,313.88 183.60,314.35 184.03,314.81 184.45,315.26 184.88,315.71 185.30,316.15 185.73,316.57 186.15,317.00 186.57,317.41 187.00,317.82 187.43,318.22 187.85,318.61 188.28,319.00 188.70,319.38 189.12,319.75 189.55,320.11 189.98,320.47 190.40,320.83 190.82,321.17 191.25,321.51 191.68,321.85 192.10,322.17 192.53,322.50 192.95,322.81 193.38,323.12 193.80,323.43 194.23,323.73 194.65,324.02 195.07,324.31 195.50,324.59 195.93,324.87 196.35,325.14 196.78,325.41 197.20,325.67 197.62,325.93 198.05,326.18 198.48,326.43 198.90,326.67 199.32,326.91 199.75,327.15 200.18,327.38 200.60,327.60 201.03,327.82 201.45,328.04 201.88,328.25 202.30,328.46 202.73,328.66 203.15,328.86 203.57,329.06 204.00,329.25 204.43,329.44 204.85,329.62 205.28,329.81 205.70,329.98 206.12,330.16 206.55,330.33 206.98,330.49 207.40,330.66 207.82,330.82 208.25,330.98 208.68,331.13 209.10,331.28 209.53,331.43 209.95,331.57 210.38,331.71 210.80,331.85 211.23,331.99 211.65,332.12 212.07,332.25 212.50,332.38 212.93,332.50 213.35,332.63 213.78,332.75 214.20,332.86 214.62,332.98 215.05,333.09 215.48,333.20 215.90,333.31 216.33,333.41 216.75,333.51 217.18,333.61 217.60,333.71 218.03,333.81 218.45,333.90 218.88,333.99 219.30,334.08 219.73,334.17 220.15,334.26 220.58,334.34 221.00,334.42 221.43,334.50 221.85,334.58 222.27,334.66 222.70,334.73 223.12,334.80 223.55,334.88 223.98,334.95 224.40,335.01 224.83,335.08 225.25,335.14 225.68,335.21 226.10,335.27 226.52,335.33 226.95,335.39 227.38,335.44 227.80,335.50 228.23,335.55 228.65,335.61 229.08,335.66 229.50,335.71 229.93,335.76 230.35,335.81 230.78,335.85 231.20,335.90 231.62,335.94 232.05,335.99 232.48,336.03 232.90,336.07 233.32,336.11 233.75,336.15 234.18,336.18 234.60,336.22 235.03,336.26 235.45,336.29 235.88,336.33 236.30,336.36 236.73,336.39 237.15,336.42 237.57,336.45 238.00,336.48 238.43,336.51 238.85,336.54 239.28,336.56 239.70,336.59 240.12,336.61 240.55,336.64 240.98,336.66 241.40,336.68 241.82,336.71 242.25,336.73 242.68,336.75 243.10,336.77 243.53,336.79 243.95,336.80 244.38,336.82 244.80,336.84 245.23,336.86 245.65,336.87 246.07,336.89 246.50,336.90 246.93,336.92 247.35,336.93 247.78,336.95 248.20,336.96 248.62,336.97 249.05,336.98 249.48,336.99 249.90,337.00 250.32,337.02 250.75,337.03 251.18,337.03 251.60,337.04 252.03,337.05 252.45,337.06 252.88,337.07 253.30,337.08 253.73,337.08 254.15,337.09 254.57,337.10 255.00,337.10 255.43,337.11 255.85,337.11 256.27,337.12 256.70,337.12 257.12,337.13 257.55,337.13 257.98,337.14 258.40,337.14 258.83,337.14 259.25,337.15 259.68,337.15 260.10,337.15 260.52,337.15 260.95,337.15 261.38,337.16 261.80,337.16 262.23,337.16 262.65,337.16 263.08,337.16 263.50,337.16 263.93,337.16 264.35,337.16 264.77,337.16 265.20,337.16 265.62,337.16 266.05,337.16 266.48,337.16 266.90,337.16 267.33,337.16 267.75,337.16 268.18,337.16 268.60,337.15 269.02,337.15 269.45,337.15 269.88,337.15 270.30,337.15 270.73,337.15 271.15,337.14 271.58,337.14 272.00,337.14 272.43,337.14 272.85,337.13 273.27,337.13 273.70,337.13 274.12,337.13 274.55,337.12 274.98,337.12 275.40,337.12 275.83,337.11 276.25,337.11 276.68,337.11 277.10,337.10 277.52,337.10 277.95,337.10 278.38,337.09 278.80,337.09 279.23,337.09 279.65,337.08 280.08,337.08 280.50,337.08 280.93,337.07 281.35,337.07 281.77,337.06 282.20,337.06 282.62,337.06 283.05,337.05 283.48,337.05 283.90,337.05 284.33,337.04 284.75,337.04 285.18,337.03 285.60,337.03 286.02,337.03 286.45,337.02 286.88,337.02 287.30,337.01 287.73,337.01 288.15,337.01 288.58,337.00 289.00,337.00 289.43,337.00 289.85,336.99 290.27,336.99 290.70,336.98 291.12,336.98 291.55,336.98 291.98,336.97 292.40,336.97 292.83,336.97 293.25,336.96 293.68,336.96 294.10,336.96 294.52,336.95 294.95,336.95 295.38,336.94 295.80,336.94 296.23,336.94 296.65,336.93 297.08,336.93 297.50,336.93 297.93,336.93 298.35,336.92 298.77,336.92 299.20,336.92 299.62,336.91 300.05,336.91 300.48,336.91 300.90,336.91 301.33,336.90 301.75,336.90 302.18,336.90 302.60,336.89 303.02,336.89 303.45,336.89 303.88,336.89 304.30,336.89 304.73,336.88 305.15,336.88 305.58,336.88 306.00,336.88 306.43,336.88 306.85,336.87 307.27,336.87 307.70,336.87 308.12,336.87 308.55,336.87 308.98,336.87 309.40,336.86 309.83,336.86 310.25,336.86 310.68,336.86 311.10,336.86 311.52,336.86 311.95,336.86 312.38,336.86 312.80,336.86 313.23,336.86 313.65,336.85 314.08,336.85 314.50,336.85 314.93,336.85 315.35,336.85 315.77,336.85 316.20,336.85 316.62,336.85 317.05,336.85 317.48,336.85 317.90,336.85 318.33,336.85 318.75,336.85 319.18,336.86 319.60,336.86 320.02,336.86 320.45,336.86 320.88,336.86 321.30,336.86 321.73,336.86 322.15,336.86 322.58,336.86 323.00,336.86 323.43,336.87 323.85,336.87 324.27,336.87 324.70,336.87 325.12,336.87 325.55,336.88 325.98,336.88 326.40,336.88 326.83,336.88 327.25,336.88 327.68,336.89 328.10,336.89 328.52,336.89 328.95,336.90 329.38,336.90 329.80,336.90 330.23,336.90 330.65,336.91 331.08,336.91 331.50,336.91 331.93,336.92 332.35,336.92 332.77,336.93 333.20,336.93 333.62,336.93 334.05,336.94 334.48,336.94 334.90,336.95 335.33,336.95 335.75,336.95 336.18,336.96 336.60,336.96 337.02,336.97 337.45,336.97 337.88,336.98 338.30,336.98 338.73,336.99 339.15,336.99 339.58,337.00 340.00,337.01 340.43,337.01 340.85,337.02 341.28,337.02 341.70,337.03 342.12,337.04 342.55,337.04 342.98,337.05 343.40,337.05 343.83,337.06 344.25,337.07 344.68,337.07 345.10,337.08 345.53,337.09 345.95,337.10 346.38,337.10 346.80,337.11 347.23,337.12 347.65,337.13 348.08,337.13 348.50,337.14 348.93,337.15 349.35,337.16 349.78,337.17 350.20,337.17 350.62,337.18 351.05,337.19 351.48,337.20 351.90,337.21 352.33,337.22 352.75,337.23 353.18,337.24 353.60,337.24 354.03,337.25 354.45,337.26 354.88,337.27 355.30,337.28 355.73,337.29 356.15,337.30 356.58,337.31 357.00,337.32 357.42,337.33 357.85,337.34 358.28,337.35 358.70,337.36 359.12,337.38 359.55,337.39 359.98,337.40 360.40,337.41 360.83,337.42 361.25,337.43 361.67,337.44 362.10,337.45 362.53,337.47 362.95,337.48 363.38,337.49 363.80,337.50 364.23,337.51 364.65,337.53 365.08,337.54 365.50,337.55 365.93,337.56 366.35,337.58 366.77,337.59 367.20,337.60 367.62,337.62 368.05,337.63 368.48,337.64 368.90,337.66 369.33,337.67 369.75,337.68 370.18,337.70 370.60,337.71 371.02,337.73 371.45,337.74 371.88,337.76 372.30,337.77 372.73,337.79 373.15,337.80 373.58,337.82 374.00,337.83 374.43,337.85 374.85,337.86 375.27,337.88 375.70,337.89 376.12,337.91 376.55,337.92 376.98,337.94 377.40,337.96 377.83,337.97 378.25,337.99 378.68,338.00 379.10,338.02 379.52,338.04 379.95,338.05 380.38,338.07 380.80,338.09 381.23,338.11 381.65,338.12 382.08,338.14 382.50,338.16 382.93,338.18 383.35,338.19 383.77,338.21 384.20,338.23 384.62,338.25 385.05,338.27 385.48,338.29 385.90,338.30 386.33,338.32 386.75,338.34 387.18,338.36 387.60,338.38 388.02,338.40 388.45,338.42 388.88,338.44 389.30,338.46 389.73,338.48 390.15,338.50 390.58,338.52 391.00,338.54 391.43,338.56 391.85,338.58 392.27,338.60 392.70,338.62 393.12,338.64 393.55,338.66 393.98,338.69 394.40,338.71 394.83,338.73 395.25,338.75 395.68,338.77 396.10,338.79 396.52,338.82 396.95,338.84 397.38,338.86 397.80,338.88 398.23,338.90 398.65,338.93 399.08,338.95 399.50,338.97 399.93,339.00 400.35,339.02 400.77,339.04 401.20,339.07 401.62,339.09 402.05,339.11 402.48,339.14 402.90,339.16 403.33,339.19 403.75,339.21 404.18,339.24 404.60,339.26 405.02,339.28 405.45,339.31 405.88,339.33 406.30,339.36 406.73,339.39 407.15,339.41 407.58,339.44 408.00,339.46 408.43,339.49 408.85,339.51 409.27,339.54 409.70,339.57 410.12,339.59 410.55,339.62 410.98,339.65 411.40,339.67 411.83,339.70 412.25,339.73 412.68,339.75 413.10,339.78 413.52,339.81 413.95,339.84 414.38,339.87 414.80,339.89 415.23,339.92 415.65,339.95 416.08,339.98 416.50,340.01 416.93,340.04 417.35,340.06 417.77,340.09 418.20,340.12 418.62,340.15 419.05,340.18 419.48,340.21 419.90,340.24 420.33,340.27 420.75,340.30 421.18,340.33 421.60,340.36 422.03,340.39 422.45,340.42 422.88,340.45 423.30,340.48 423.73,340.52 424.15,340.55 424.58,340.58 425.00,340.61 425.43,340.64 425.85,340.67 426.28,340.70 426.70,340.74 427.12,340.77 427.55,340.80 427.98,340.83 428.40,340.87 428.83,340.90 429.25,340.93 429.68,340.97 430.10,341.00 430.53,341.03 430.95,341.07 431.38,341.10 431.80,341.13 432.23,341.17 432.65,341.20 433.08,341.24 433.50,341.27 433.93,341.30 434.35,341.34 434.78,341.37 435.20,341.41 435.62,341.44 436.05,341.48 436.48,341.51 436.90,341.55 437.33,341.58 437.75,341.62 438.18,341.66 438.60,341.69 439.03,341.73 439.45,341.76 439.88,341.80 440.30,341.83 440.73,341.87 441.15,341.91 441.58,341.94 442.00,341.98 442.43,342.01 442.85,342.05 443.28,342.09 443.70,342.12 444.12,342.16 444.55,342.19 444.98,342.23 445.40,342.26 445.83,342.30 446.25,342.33 446.68,342.37 447.10,342.40 447.53,342.44 447.95,342.47 448.38,342.51 448.80,342.54 449.23,342.57 449.65,342.61 450.08,342.64 450.50,342.67 450.93,342.70 451.35,342.74 451.78,342.77 452.20,342.80 452.62,342.82 453.05,342.85 453.48,342.88 453.90,342.91 454.33,342.93 454.75,342.96 455.18,342.98 455.60,343.00 456.03,343.03 456.45,343.05 456.88,343.06 457.30,343.08 457.73,343.10 458.15,343.11 458.58,343.12 459.00,343.14 459.43,343.14 459.85,343.15 460.28,343.16 460.70,343.16 461.12,343.16 461.55,343.15 461.98,343.15 462.40,343.14 462.83,343.13 463.25,343.12 463.68,343.10 464.10,343.08 464.53,343.06 464.95,343.03 465.38,343.00 465.80,342.97 466.23,342.93 466.65,342.88 467.08,342.84 467.50,342.79 467.93,342.73 468.35,342.67 468.78,342.61 469.20,342.54 469.62,342.46 470.05,342.38 470.48,342.29 470.90,342.20 471.33,342.10 471.75,342.00 472.18,341.89 472.60,341.77 473.03,341.65 473.45,341.52 473.88,341.39 474.30,341.24 474.73,341.10 475.15,340.94 475.58,340.78 476.00,340.61 476.43,340.43 476.85,340.24 477.28,340.05 477.70,339.85 478.12,339.65 478.55,339.43 478.98,339.21 479.40,338.98 479.83,338.74 480.25,338.50 480.68,338.25 481.10,337.99 481.53,337.72 481.95,337.45 482.38,337.17 482.80,336.88 483.23,336.58 483.65,336.28 484.08,335.97 484.50,335.66 484.93,335.34 485.35,335.01 485.78,334.68 486.20,334.34 486.62,333.99 487.05,333.65 487.48,333.29 487.90,332.93 488.33,332.57 488.75,332.21 489.18,331.84 489.60,331.47 490.03,331.09 490.45,330.72 490.88,330.34 491.30,329.96 491.73,329.58 492.15,329.20 492.58,328.82 493.00,328.44 493.43,328.07 493.85,327.69 494.28,327.32 494.70,326.95 495.12,326.58 495.55,326.22 495.98,325.86 496.40,325.51 496.83,325.16 497.25,324.82 497.68,324.49 498.10,324.17 498.53,323.85 498.95,323.54 499.38,323.24 499.80,322.95 500.23,322.68 500.65,322.41 501.08,322.15 501.50,321.91 501.93,321.68 502.35,321.46 502.78,321.26 503.20,321.07 503.62,320.89 504.05,320.73 504.48,320.58 504.90,320.46 505.33,320.34 505.75,320.25 506.18,320.17 506.60,320.10 507.03,320.06 507.45,320.04 507.88,320.03 508.30,320.04 508.73,320.07 509.15,320.13 509.58,320.21 510.00,320.32"/><polyline fill="none" stroke="#1414c8" stroke-width="2" points="85.00,351.00 85.08,351.00 85.17,350.99 85.25,350.98 85.34,350.98 85.42,350.97 85.51,350.97 85.59,350.96 85.68,350.95 85.77,350.95 85.85,350.94 85.94,350.93 86.02,350.93 86.11,350.92 86.19,350.91 86.28,350.91 86.36,350.90 86.44,350.89 86.53,350.88 86.61,350.88 86.70,350.87 86.78,350.86 86.87,350.86 86.95,350.85 87.04,350.84 87.12,350.83 87.21,350.83 87.30,350.82 87.38,350.81 87.47,350.81 87.55,350.80 87.64,350.79 87.72,350.78 87.81,350.78 87.89,350.77 87.97,350.76 88.06,350.75 88.14,350.75 88.23,350.74 88.31,350.73 88.40,350.72 88.48,350.72 88.57,350.71 88.66,350.70 88.74,350.69 88.83,350.69 88.91,350.68 89.00,350.67 89.08,350.66 89.17,350.66 89.25,350.65 89.33,350.64 89.42,350.63 89.50,350.63 89.59,350.62 89.67,350.61 89.76,350.60 89.84,350.60 89.93,350.59 90.02,350.58 90.10,350.57 90.19,350.56 90.27,350.56 90.36,350.55 90.44,350.54 90.53,350.53 90.61,350.53 90.69,350.52 90.78,350.51 90.86,350.50 90.95,350.49 91.03,350.49 91.12,350.48 91.20,350.47 91.29,350.46 91.38,350.46 91.46,350.45 91.55,350.44 91.63,350.43 91.72,350.42 91.80,350.42 91.89,350.41 91.97,350.40 92.06,350.39 92.14,350.38 92.22,350.38 92.31,350.37 92.39,350.36 92.48,350.35 92.56,350.34 92.65,350.34 92.73,350.33 92.82,350.32 92.91,350.31 92.99,350.30 93.08,350.30 93.16,350.29 93.25,350.28 93.33,350.27 93.41,350.26 93.50,350.26 93.92,350.22 94.35,350.18 94.78,350.14 95.20,350.10 95.62,350.06 96.05,350.01 96.47,349.97 96.90,349.93 97.33,349.89 97.75,349.85 98.17,349.81 98.60,349.77 99.03,349.73 99.45,349.69 99.88,349.65 100.30,349.61 100.72,349.56 101.15,349.52 101.58,349.48 102.00,349.44 102.42,349.40 102.85,349.36 103.28,349.32 103.70,349.28 104.12,349.23 104.55,349.19 104.97,349.15 105.40,349.11 105.83,349.07 106.25,349.03 106.67,348.99 107.10,348.94 107.53,348.90 107.95,348.86 108.38,348.82 108.80,348.78 109.22,348.74 109.65,348.70 110.08,348.65 110.50,348.61 110.92,348.57 111.35,348.53 111.78,348.49 112.20,348.45 112.62,348.41 113.05,348.37 113.47,348.32 113.90,348.28 114.33,348.24 114.75,348.20 115.17,348.16 115.60,348.12 116.03,348.08 116.45,348.04 116.88,348.00 117.30,347.95 117.72,347.91 118.15,347.87 118.58,347.83 119.00,347.79 119.43,347.75 119.85,347.71 120.28,347.67 120.70,347.63 121.12,347.59 121.55,347.55 121.97,347.51 122.40,347.47 122.83,347.42 123.25,347.38 123.68,347.34 124.10,347.30 124.53,347.26 124.95,347.22 125.38,347.18 125.80,347.14 126.22,347.10 126.65,347.06 127.08,347.02 127.50,346.98 127.92,346.94 128.35,346.90 128.78,346.86 129.20,346.82 129.62,346.78 130.05,346.74 130.47,346.70 130.90,346.66 131.32,346.62 131.75,346.58 132.18,346.54 132.60,346.50 133.03,346.46 133.45,346.42 133.88,346.39 134.30,346.35 134.72,346.31 135.15,346.27 135.57,346.23 136.00,346.19 136.43,346.15 136.85,346.11 137.28,346.07 137.70,346.03 138.12,345.99 138.55,345.96 138.97,345.92 139.40,345.88 139.82,345.84 140.25,345.80 140.68,345.76 141.10,345.72 141.53,345.69 141.95,345.65 142.38,345.61 142.80,345.57 143.22,345.53 143.65,345.49 144.07,345.46 144.50,345.42 144.93,345.38 145.35,345.34 145.78,345.31 146.20,345.27 146.62,345.23 147.05,345.19 147.47,345.15 147.90,345.12 148.32,345.08 148.75,345.04 149.18,345.01 149.60,344.97 150.03,344.93 150.45,344.89 150.88,344.86 151.30,344.82 151.73,344.78 152.15,344.75 152.57,344.71 153.00,344.67 153.43,344.64 153.85,344.60 154.28,344.56 154.70,344.53 155.12,344.49 155.55,344.45 155.98,344.42 156.40,344.38 156.82,344.35 157.25,344.31 157.68,344.27 158.10,344.24 158.53,344.20 158.95,344.17 159.38,344.13 159.80,344.09 160.23,344.06 160.65,344.02 161.07,343.99 161.50,343.95 161.93,343.92 162.35,343.88 162.78,343.85 163.20,343.81 163.62,343.78 164.05,343.74 164.47,343.71 164.90,343.67 165.32,343.64 165.75,343.60 166.18,343.57 166.60,343.53 167.03,343.50 167.45,343.47 167.88,343.43 168.30,343.40 168.72,343.36 169.15,343.33 169.57,343.30 170.00,343.26 170.43,343.23 170.85,343.19 171.28,343.16 171.70,343.13 172.12,343.09 172.55,343.06 172.97,343.03 173.40,342.99 173.82,342.96 174.25,342.93 174.68,342.89 175.10,342.86 175.53,342.83 175.95,342.79 176.38,342.76 176.80,342.73 177.23,342.70 177.65,342.66 178.07,342.63 178.50,342.60 178.93,342.57 179.35,342.54 179.78,342.50 180.20,342.47 180.62,342.44 181.05,342.41 181.48,342.38 181.90,342.34 182.32,342.31 182.75,342.28 183.18,342.25 183.60,342.22 184.03,342.19 184.45,342.15 184.88,342.12 185.30,342.09 185.73,342.06 186.15,342.03 186.57,342.00 187.00,341.97 187.43,341.94 187.85,341.91 188.28,341.88 188.70,341.85 189.12,341.82 189.55,341.79 189.98,341.76 190.40,341.73 190.82,341.70 191.25,341.67 191.68,341.64 192.10,341.61 192.53,341.58 192.95,341.55 193.38,341.52 193.80,341.49 194.23,341.46 194.65,341.43 195.07,341.40 195.50,341.37 195.93,341.34 196.35,341.31 196.78,341.28 197.20,341.26 197.62,341.23 198.05,341.20 198.48,341.17 198.90,341.14 199.32,341.11 199.75,341.08 200.18,341.06 200.60,341.03 201.03,341.00 201.45,340.97 201.88,340.94 202.30,340.92 202.73,340.89 203.15,340.86 203.57,340.83 204.00,340.81 204.43,340.78 204.85,340.75 205.28,340.72 205.70,340.70 206.12,340.67 206.55,340.64 206.98,340.62 207.40,340.59 207.82,340.56 208.25,340.54 208.68,340.51 209.10,340.48 209.53,340.46 209.95,340.43 210.38,340.41 210.80,340.38 211.23,340.35 211.65,340.33 212.07,340.30 212.50,340.28 212.93,340.25 213.35,340.23 213.78,340.20 214.20,340.17 214.62,340.15 215.05,340.12 215.48,340.10 215.90,340.07 216.33,340.05 216.75,340.02 217.18,340.00 217.60,339.98 218.03,339.95 218.45,339.93 218.88,339.90 219.30,339.88 219.73,339.85 220.15,339.83 220.58,339.81 221.00,339.78 221.43,339.76 221.85,339.73 222.27,339.71 222.70,339.69 223.12,339.66 223.55,339.64 223.98,339.62 224.40,339.59 224.83,339.57 225.25,339.55 225.68,339.52 226.10,339.50 226.52,339.48 226.95,339.46 227.38,339.43 227.80,339.41 228.23,339.39 228.65,339.37 229.08,339.35 229.50,339.32 229.93,339.30 230.35,339.28 230.78,339.26 231.20,339.24 231.62,339.21 232.05,339.19 232.48,339.17 232.90,339.15 233.32,339.13 233.75,339.11 234.18,339.09 234.60,339.07 235.03,339.04 235.45,339.02 235.88,339.00 236.30,338.98 236.73,338.96 237.15,338.94 237.57,338.92 238.00,338.90 238.43,338.88 238.85,338.86 239.28,338.84 239.70,338.82 240.12,338.80 240.55,338.78 240.98,338.76 241.40,338.74 241.82,338.72 242.25,338.71 242.68,338.69 243.10,338.67 243.53,338.65 243.95,338.63 244.38,338.61 244.80,338.59 245.23,338.57 245.65,338.56 246.07,338.54 246.50,338.52 246.93,338.50 247.35,338.48 247.78,338.46 248.20,338.45 248.62,338.43 249.05,338.41 249.48,338.39 249.90,338.38 250.32,338.36 250.75,338.34 251.18,338.32 251.60,338.31 252.03,338.29 252.45,338.27 252.88,338.26 253.30,338.24 253.73,338.22 254.15,338.21 254.57,338.19 255.00,338.17 255.43,338.16 255.85,338.14 256.27,338.13 256.70,338.11 257.12,338.09 257.55,338.08 257.98,338.06 258.40,338.05 258.83,338.03 259.25,338.02 259.68,338.00 260.10,337.99 260.52,337.97 260.95,337.96 261.38,337.94 261.80,337.93 262.23,337.91 262.65,337.90 263.08,337.88 263.50,337.87 263.93,337.85 264.35,337.84 264.77,337.83 265.20,337.81 265.62,337.80 266.05,337.79 266.48,337.77 266.90,337.76 267.33,337.74 267.75,337.73 268.18,337.72 268.60,337.70 269.02,337.69 269.45,337.68 269.88,337.67 270.30,337.65 270.73,337.64 271.15,337.63 271.58,337.62 272.00,337.60 272.43,337.59 272.85,337.58 273.27,337.57 273.70,337.56 274.12,337.54 274.55,337.53 274.98,337.52 275.40,337.51 275.83,337.50 276.25,337.49 276.68,337.48 277.10,337.46 277.52,337.45 277.95,337.44 278.38,337.43 278.80,337.42 279.23,337.41 279.65,337.40 280.08,337.39 280.50,337.38 280.93,337.37 281.35,337.36 281.77,337.35 282.20,337.34 282.62,337.33 283.05,337.32 283.48,337.31 283.90,337.30 284.33,337.29 284.75,337.28 285.18,337.27 285.60,337.27 286.02,337.26 286.45,337.25 286.88,337.24 287.30,337.23 287.73,337.22 288.15,337.21 288.58,337.21 289.00,337.20 289.43,337.19 289.85,337.18 290.27,337.17 290.70,337.17 291.12,337.16 291.55,337.15 291.98,337.14 292.40,337.14 292.83,337.13 293.25,337.12 293.68,337.12 294.10,337.11 294.52,337.10 294.95,337.10 295.38,337.09 295.80,337.08 296.23,337.08 296.65,337.07 297.08,337.06 297.50,337.06 297.93,337.05 298.35,337.05 298.77,337.04 299.20,337.03 299.62,337.03 300.05,337.02 300.48,337.02 300.90,337.01 301.33,337.01 301.75,337.00 302.18,337.00 302.60,336.99 303.02,336.99 303.45,336.99 303.88,336.98 304.30,336.98 304.73,336.97 305.15,336.97 305.58,336.96 306.00,336.96 306.43,336.96 306.85,336.95 307.27,336.95 307.70,336.95 308.12,336.94 308.55,336.94 308.98,336.94 309.40,336.93 309.83,336.93 310.25,336.93 310.68,336.93 311.10,336.92 311.52,336.92 311.95,336.92 312.38,336.92 312.80,336.91 313.23,336.91 313.65,336.91 314.08,336.91 314.50,336.91 314.93,336.91 315.35,336.90 315.77,336.90 316.20,336.90 316.62,336.90 317.05,336.90 317.48,336.90 317.90,336.90 318.33,336.90 318.75,336.90 319.18,336.90 319.60,336.90 320.02,336.90 320.45,336.90 320.88,336.90 321.30,336.90 321.73,336.90 322.15,336.90 322.58,336.90 323.00,336.90 323.43,336.90 323.85,336.90 324.27,336.90 324.70,336.90 325.12,336.90 325.55,336.91 325.98,336.91 326.40,336.91 326.83,336.91 327.25,336.91 327.68,336.91 328.10,336.92 328.52,336.92 328.95,336.92 329.38,336.92 329.80,336.93 330.23,336.93 330.65,336.93 331.08,336.93 331.50,336.94 331.93,336.94 332.35,336.94 332.77,336.95 333.20,336.95 333.62,336.95 334.05,336.96 334.48,336.96 334.90,336.96 335.33,336.97 335.75,336.97 336.18,336.98 336.60,336.98 337.02,336.99 337.45,336.99 337.88,336.99 338.30,337.00 338.73,337.00 339.15,337.01 339.58,337.01 340.00,337.02 340.43,337.03 340.85,337.03 341.28,337.04 341.70,337.04 342.12,337.05 342.55,337.05 342.98,337.06 343.40,337.07 343.83,337.07 344.25,337.08 344.68,337.09 345.10,337.09 345.53,337.10 345.95,337.11 346.38,337.11 346.80,337.12 347.23,337.13 347.65,337.13 348.08,337.14 348.50,337.15 348.93,337.16 349.35,337.17 349.78,337.17 350.20,337.18 350.62,337.19 351.05,337.20 351.48,337.21 351.90,337.22 352.33,337.22 352.75,337.23 353.18,337.24 353.60,337.25 354.03,337.26 354.45,337.27 354.88,337.28 355.30,337.29 355.73,337.30 356.15,337.31 356.58,337.32 357.00,337.33 357.42,337.34 357.85,337.35 358.28,337.36 358.70,337.37 359.12,337.38 359.55,337.39 359.98,337.40 360.40,337.41 360.83,337.42 361.25,337.44 361.67,337.45 362.10,337.46 362.53,337.47 362.95,337.48 363.38,337.49 363.80,337.51 364.23,337.52 364.65,337.53 365.08,337.54 365.50,337.56 365.93,337.57 366.35,337.58 366.77,337.59 367.20,337.61 367.62,337.62 368.05,337.63 368.48,337.65 368.90,337.66 369.33,337.67 369.75,337.69 370.18,337.70 370.60,337.72 371.02,337.73 371.45,337.74 371.88,337.76 372.30,337.77 372.73,337.79 373.15,337.80 373.58,337.82 374.00,337.83 374.43,337.85 374.85,337.86 375.27,337.88 375.70,337.89 376.12,337.91 376.55,337.93 376.98,337.94 377.40,337.96 377.83,337.97 378.25,337.99 378.68,338.01 379.10,338.02 379.52,338.04 379.95,338.06 380.38,338.07 380.80,338.09 381.23,338.11 381.65,338.13 382.08,338.14 382.50,338.16 382.93,338.18 383.35,338.20 383.77,338.21 384.20,338.23 384.62,338.25 385.05,338.27 385.48,338.29 385.90,338.31 386.33,338.32 386.75,338.34 387.18,338.36 387.60,338.38 388.02,338.40 388.45,338.42 388.88,338.44 389.30,338.46 389.73,338.48 390.15,338.50 390.58,338.52 391.00,338.54 391.43,338.56 391.85,338.58 392.27,338.60 392.70,338.62 393.12,338.64 393.55,338.66 393.98,338.69 394.40,338.71 394.83,338.73 395.25,338.75 395.68,338.77 396.10,338.79 396.52,338.82 396.95,338.84 397.38,338.86 397.80,338.88 398.23,338.91 398.65,338.93 399.08,338.95 399.50,338.97 399.93,339.00 400.35,339.02 400.77,339.04 401.20,339.07 401.62,339.09 402.05,339.11 402.48,339.14 402.90,339.16 403.33,339.19 403.75,339.21 404.18,339.24 404.60,339.26 405.02,339.29 405.45,339.31 405.88,339.34 406.30,339.36 406.73,339.39 407.15,339.41 407.58,339.44 408.00,339.46 408.43,339.49 408.85,339.51 409.27,339.54 409.70,339.57 410.12,339.59 410.55,339.62 410.98,339.65 411.40,339.67 411.83,339.70 412.25,339.73 412.68,339.75 413.10,339.78 413.52,339.81 413.95,339.84 414.38,339.87 414.80,339.89 415.23,339.92 415.65,339.95 416.08,339.98 416.50,340.01 416.93,340.04 417.35,340.06 417.77,340.09 418.20,340.12 418.62,340.15 419.05,340.18 419.48,340.21 419.90,340.24 420.33,340.27 420.75,340.30 421.18,340.33 421.60,340.36 422.03,340.39 422.45,340.42 422.88,340.45 423.30,340.48 423.73,340.52 424.15,340.55 424.58,340.58 425.00,340.61 425.43,340.64 425.85,340.67 426.28,340.71 426.70,340.74 427.12,340.77 427.55,340.80 427.98,340.84 428.40,340.87 428.83,340.90 429.25,340.93 429.68,340.97 430.10,341.00 430.53,341.03 430.95,341.07 431.38,341.10 431.80,341.14 432.23,341.17 432.65,341.20 433.08,341.24 433.50,341.27 433.93,341.31 434.35,341.34 434.78,341.38 435.20,341.41 435.62,341.45 436.05,341.48 436.48,341.52 436.90,341.56 437.33,341.59 437.75,341.63 438.18,341.66 438.60,341.70 439.03,341.74 439.45,341.77 439.88,341.81 440.30,341.85 440.73,341.89 441.15,341.92 441.58,341.96 442.00,342.00 442.43,342.04 442.85,342.08 443.28,342.11 443.70,342.15 444.12,342.19 444.55,342.23 444.98,342.27 445.40,342.31 445.83,342.35 446.25,342.39 446.68,342.43 447.10,342.47 447.53,342.51 447.95,342.55 448.38,342.59 448.80,342.63 449.23,342.67 449.65,342.71 450.08,342.75 450.50,342.79 450.93,342.83 451.35,342.87 451.78,342.92 452.20,342.96 452.62,343.00 453.05,343.04 453.48,343.08 453.90,343.13 454.33,343.17 454.75,343.21 455.18,343.26 455.60,343.30 456.03,343.34 456.45,343.39 456.88,343.43 457.30,343.47 457.73,343.52 458.15,343.56 458.58,343.61 459.00,343.65 459.43,343.70 459.85,343.74 460.28,343.79 460.70,343.83 461.12,343.88 461.55,343.93 461.98,343.97 462.40,344.02 462.83,344.06 463.25,344.11 463.68,344.16 464.10,344.21 464.53,344.25 464.95,344.30 465.38,344.35 465.80,344.40 466.23,344.44 466.65,344.49 467.08,344.54 467.50,344.59 467.93,344.64 468.35,344.69 468.78,344.74 469.20,344.79 469.62,344.84 470.05,344.89 470.48,344.94 470.90,344.99 471.33,345.04 471.75,345.09 472.18,345.14 472.60,345.19 473.03,345.24 473.45,345.29 473.88,345.34 474.30,345.40 474.73,345.45 475.15,345.50 475.58,345.55 476.00,345.61 476.43,345.66 476.85,345.71 477.28,345.77 477.70,345.82 478.12,345.88 478.55,345.93 478.98,345.98 479.40,346.04 479.83,346.09 480.25,346.15 480.68,346.21 481.10,346.26 481.53,346.32 481.95,346.37 482.38,346.43 482.80,346.49 483.23,346.54 483.65,346.60 484.08,346.66 484.50,346.72 484.93,346.78 485.35,346.83 485.78,346.89 486.20,346.95 486.62,347.01 487.05,347.07 487.48,347.13 487.90,347.19 488.33,347.25 488.75,347.31 489.18,347.37 489.60,347.43 490.03,347.50 490.45,347.56 490.88,347.62 491.30,347.68 491.73,347.75 492.15,347.81 492.58,347.87 493.00,347.94 493.43,348.00 493.85,348.06 494.28,348.13 494.70,348.20 495.12,348.26 495.55,348.33 495.98,348.39 496.40,348.46 496.83,348.53 497.25,348.60 497.68,348.66 498.10,348.73 498.53,348.80 498.95,348.87 499.38,348.94 499.80,349.01 500.23,349.08 500.65,349.16 501.08,349.23 501.50,349.30 501.93,349.37 502.35,349.45 502.78,349.52 503.20,349.60 503.62,349.67 504.05,349.75 504.48,349.83 504.90,349.91 505.33,349.99 505.75,350.07 506.18,350.15 506.60,350.23 507.03,350.32 507.45,350.40 507.88,350.49 508.30,350.58 508.73,350.68 509.15,350.77 509.58,350.88 510.00,351.00"/><text x="77.9" y="357.4" class="t" font-size="21" text-anchor="end">0.00</text><text x="77.9" y="300.2" class="t" font-size="21" text-anchor="end">0.03</text><text x="77.9" y="243.1" class="t" font-size="21" text-anchor="end">0.06</text><text x="77.9" y="185.9" class="t" font-size="21" text-anchor="end">0.09</text><text x="77.9" y="128.7" class="t" font-size="21" text-anchor="end">0.12</text><text x="77.9" y="71.6" class="t" font-size="21" text-anchor="end">0.15</text><text x="77.9" y="14.4" class="t" font-size="21" text-anchor="end">0.18</text><text x="85.5" y="374.6" class="t" font-size="21" text-anchor="middle">0</text><text x="170.5" y="374.6" class="t" font-size="21" text-anchor="middle">10</text><text x="255.5" y="374.6" class="t" font-size="21" text-anchor="middle">20</text><text x="340.5" y="374.6" class="t" font-size="21" text-anchor="middle">30</text><text x="425.5" y="374.6" class="t" font-size="21" text-anchor="middle">40</text><text x="510.5" y="374.6" class="t" font-size="21" text-anchor="middle">50</text><text x="110" y="410.5" class="t" font-size="23">emission secondary electron energy (eV)</text><text transform="translate(19.8 228.1) rotate(-90)" class="t" font-size="23.3">dδ/dE (eV<tspan dy="-9" font-size="16">-1</tspan><tspan dy="9">)</tspan></text><line x1="292" y1="57" x2="339" y2="57" stroke="#e8141c" stroke-width="2"/><text x="345.5" y="64.5" class="t" font-size="21">elastic</text><line x1="292" y1="83" x2="339" y2="83" stroke="#1414c8" stroke-width="2"/><text x="345.5" y="90.5" class="t" font-size="21">rediffused</text><line x1="292" y1="109" x2="339" y2="109" stroke="#28e628" stroke-width="2"/><text x="345.5" y="116.5" class="t" font-size="21">true secondary</text><line x1="292" y1="135" x2="339" y2="135" stroke="#000" stroke-width="2.2" stroke-dasharray="7.2 9.2"/><text x="345.5" y="142.5" class="t" font-size="21">total</text></svg></body></html>
